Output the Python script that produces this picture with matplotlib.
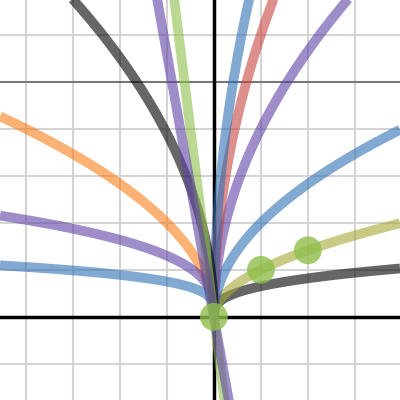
import numpy as np
import matplotlib
matplotlib.use("Agg")
import matplotlib.pyplot as plt

xmin, xmax, ymin, ymax = -4.55, 3.96, -1.77, 6.74
# right-side curves: coef * x**power, x>=0
right_coefs = [0.65, 1.0, 2.0, 4.0, 6.0, 7.8]
right_pows = [1/3, 0.5, 0.5, 0.5, 0.5, 0.5]
right_colors = ["#000000", "#a8a838", "#2d70b3", "#6042a6", "#c74440", "#2d70b3"]
# left-side curves: coef * (-x)**power, x<=0
left_coefs = [2.0, 1.3, 0.75, 3.9]
left_pows = [0.5, 1/3, 0.25, 0.5]
left_colors = ["#fa7e19", "#6042a6", "#2d70b3", "#000000"]
# lines through origin
line_slopes = [-8.0, -5.6]
line_colors = ["#8fbf4a", "#6042a6"]
pts_x = [0, 1, 2]
pts_y = [0, 1, np.sqrt(2)]

fig = plt.figure(figsize=(4, 4), dpi=100)
ax = fig.add_axes([0, 0, 1, 1])
ax.set_xlim(xmin, xmax); ax.set_ylim(ymin, ymax)
for g in range(-4, 4):
    ax.axvline(g, color="#d4d4d4", lw=1.5, zorder=0)
for g in range(-1, 7):
    ax.axhline(g, color="#777777" if g == 5 else "#d4d4d4", lw=1.5, zorder=0)
ax.axhline(0, color="black", lw=2.5, zorder=1)
ax.axvline(0, color="black", lw=2.5, zorder=1)

xr = np.linspace(0, xmax, 2000)
for c, p, col in zip(right_coefs, right_pows, right_colors):
    ax.plot(xr, c * xr**p, color=col, lw=7, alpha=0.6, solid_capstyle="butt", zorder=2)
xl = np.linspace(xmin, 0, 2000)
for c, p, col in zip(left_coefs, left_pows, left_colors):
    ax.plot(xl, c * (-xl)**p, color=col, lw=7, alpha=0.6, solid_capstyle="butt", zorder=2)
xx = np.linspace(-1.5, 1.5, 10)
for s, col in zip(line_slopes, line_colors):
    ax.plot(xx, s * xx, color=col, lw=7, alpha=0.6, zorder=2)
ax.scatter(pts_x, pts_y, s=400, color="#8fbf4a", alpha=0.8, zorder=3, edgecolors="none")
ax.set_xticks([]); ax.set_yticks([])
for s in ax.spines.values():
    s.set_visible(False)
fig.savefig("out.png", dpi=100)
